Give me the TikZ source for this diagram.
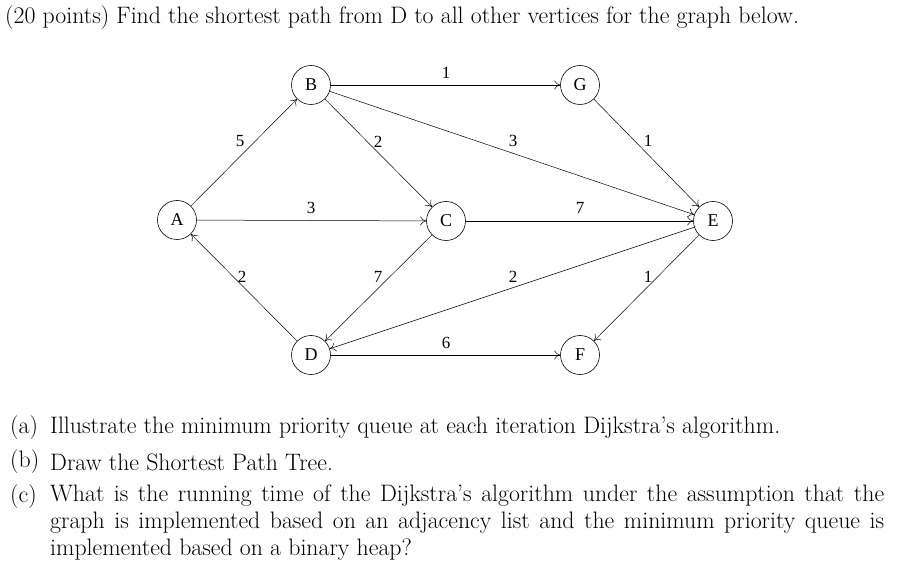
\documentclass[tikz,border=0pt]{standalone}
\usepackage{fontspec}
\newfontfamily\tms{Liberation Serif}
\usetikzlibrary{arrows.meta}
\begin{document}
\begin{tikzpicture}[x=1pt,y=-1pt,
  vtx/.style={circle,draw,line width=0.6pt,minimum size=39pt,inner sep=0pt,font=\tms\fontsize{18}{18}\selectfont},
  edge/.style={draw,line width=0.5pt,-{To[length=6pt,width=9pt]}},
  wt/.style={font=\tms\fontsize{17}{17}\selectfont,inner sep=0pt},
  txt/.style={anchor=north west,inner sep=0pt,font=\fontsize{23.8}{27}\selectfont}]
\useasboundingbox (0,0) rectangle (913,577);
\node[txt,anchor=west] (hdr) at (5,18) {(20 points) Find the shortest path from D to all other vertices for the graph below.};
\node[vtx] (A) at (177,220) {A};
\node[vtx] (B) at (311,85) {B};
\node[vtx] (G) at (580,85) {G};
\node[vtx] (C) at (446,221) {C};
\node[vtx] (E) at (713,221) {E};
\node[vtx] (D) at (311,355) {D};
\node[vtx] (F) at (580,355) {F};
\path[edge] (B) -- (G);
\path[edge] (B) -- (C);
\path[edge] (B) -- (E);
\path[edge] (A) -- (B);
\path[edge] (A) -- (C);
\path[edge] (C) -- (E);
\path[edge] (G) -- (E);
\path[edge] (D) -- (A);
\path[edge] (C) -- (D);
\path[edge] (E) -- (D);
\path[edge] (E) -- (F);
\path[edge] (D) -- (F);
\node[wt] (w1) at (446,73) {1};
\node[wt] (w2) at (378,142) {2};
\node[wt] (w3) at (513,141) {3};
\node[wt] (w4) at (240,141) {5};
\node[wt] (w5) at (311,208) {3};
\node[wt] (w6) at (580,208) {7};
\node[wt] (w7) at (648,141) {1};
\node[wt] (w8) at (242,277) {2};
\node[wt] (w9) at (378,277) {7};
\node[wt] (w10) at (513,277) {2};
\node[wt] (w11) at (648,277) {1};
\node[wt] (w12) at (446,343) {6};
\node[txt,anchor=west] (la) at (10,428) {(a)};
\node[txt,anchor=west] (ta) at (50,428) {Illustrate the minimum priority queue at each iteration Dijkstra's algorithm.};
\node[txt,anchor=west] (lb) at (10,462) {(b)};
\node[txt,anchor=west] (tb) at (50,462) {Draw the Shortest Path Tree.};
\node[txt,anchor=west] (lc) at (10,497) {(c)};
\node[txt,anchor=north west,text width=834pt,align=justify] (tc) at (50,485) {What is the running time of the Dijkstra's algorithm under the assumption that the graph is implemented based on an adjacency list and the minimum priority queue is implemented based on a binary heap?};
\end{tikzpicture}
\end{document}
